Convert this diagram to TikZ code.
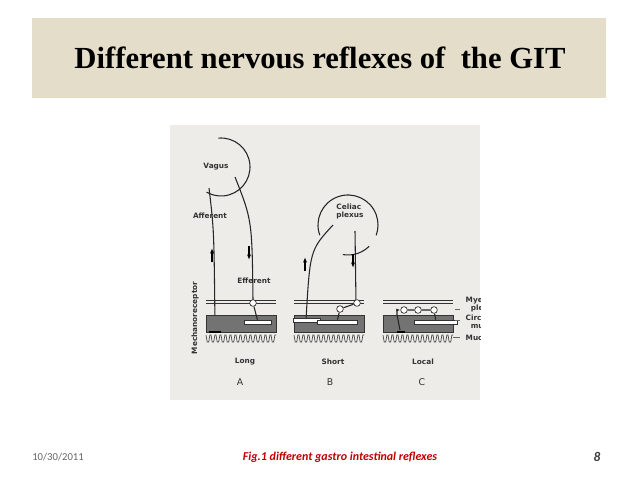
\documentclass[tikz,border=0pt]{standalone}
\usepackage{fontspec}
\setmainfont{Liberation Serif}
\newfontfamily\calfnt{Carlito}
\newfontfamily\figfnt{DejaVu Sans}
\usetikzlibrary{arrows.meta}
\definecolor{banner}{HTML}{E3DDC9}
\definecolor{figbg}{HTML}{EDECE9}
\definecolor{capred}{HTML}{C00000}
\tikzset{
  nerve/.style={line width=0.8pt,black!85},
  lbl/.style={font=\figfnt\fontsize{5.5}{6}\selectfont\bfseries,text=black!80},
  layer/.style={draw=black!80,line width=0.5pt},
  muscle/.style={layer,fill=black!55},
  plate/.style={draw=black!80,fill=white,line width=0.4pt,minimum width=20pt,minimum height=3pt,inner sep=0pt},
  gang/.style={circle,draw=black!85,fill=white,line width=0.5pt,inner sep=0pt,minimum size=5pt},
  arr/.style={-{Latex[length=4pt,width=3pt]},line width=0.9pt}
}
\begin{document}
\begin{tikzpicture}[x=0.75pt,y=-0.75pt]
\useasboundingbox (0,0) rectangle (638,478);
\fill[white] (0,0) rectangle (638,478);
\fill[banner] (32,18) rectangle (606,98);
\node (title) at (320,58) {\fontsize{23}{26}\selectfont\bfseries Different nervous reflexes of\ \ the GIT};
\fill[figbg] (170,125) rectangle (480,400);
\begin{scope}
\clip (170,125) rectangle (480,400);
% panel A
\draw[nerve] (221,167) ++(-95:29) arc[start angle=-95,end angle=120,radius=29];
\node[lbl] (vagus) at (216,167) {Vagus};
\node[lbl] (aff) at (210,216) {Afferent};
\node[lbl] (eff) at (254,281) {Efferent};
\draw[nerve] (209,188) .. controls (214,230) .. (215,327);
\draw[nerve] (235,177) .. controls (252,220) .. (253,300);
\draw[arr] (212,262) -- (212,248);
\draw[arr] (249,246) -- (249,260);
\foreach \x/\w in {206/70,294/70,383/70} {
  \draw[layer] (\x,300) -- ++(\w,0);
  \draw[layer] (\x,303) -- ++(\w,0);
  \draw[muscle] (\x,315) rectangle ++(\w,17);
  \draw[black!75,line width=0.5pt] (\x,335) foreach \i in {0,...,13} { -- ++(1.2,7) -- ++(1.5,0) -- ++(1.2,-7) -- ++(1.1,0)};
}
\draw[line width=1.4pt] (209,332) -- (221,332);
\node[plate] (pa) at (258,322) {};
\node[gang] (ga) at (253,303) {};
\draw[nerve] (ga) -- (pa);
\node[lbl] at (245,362) {Long};
\node[font=\figfnt\fontsize{7}{8}\selectfont,text=black!80] at (240,382) {A};
\node[lbl,rotate=90] at (195,318) {Mechanoreceptor};
% panel B
\draw[nerve] (348,225) ++(-200:30) arc[start angle=-200,end angle=20,radius=30];
\draw[nerve] (348,225) ++(45:30) arc[start angle=45,end angle=100,radius=30];
\node[lbl,align=left] at (350,211) {Celiac\\plexus};
\draw[nerve] (333,225) .. controls (310,250) .. (306,320);
\node[plate] (pb1) at (307,320) {};
\draw[nerve] (355,231) -- (356,303);
\draw[arr] (305,271) -- (305,257);
\draw[arr] (353,254) -- (353,268);
\node[gang] (gb1) at (357,303) {};
\node[gang] (gb2) at (340,309) {};
\node[plate,minimum width=30pt] (pb2) at (337,322) {};
\draw[nerve] (gb1) -- (gb2) -- (pb2);
\node[lbl] at (333,362) {Short};
\node[font=\figfnt\fontsize{7}{8}\selectfont,text=black!80] at (330,382) {B};
% panel C
\draw[line width=1.4pt] (397,332) -- (405,332);
\coordinate (cs) at (400,330);
\node[gang] (gc1) at (404,310) {};
\node[gang] (gc2) at (418,310) {};
\node[gang] (gc3) at (434,310) {};
\node[plate,minimum width=32pt] (pc) at (436,322) {};
\draw[nerve,-{Latex[length=3pt]}] (cs) -- (397,315) .. controls (397,310) .. (gc1);
\draw[nerve] (gc1) -- (gc2) -- (gc3) -- (pc);
\node[lbl] at (423,362) {Local};
\node[font=\figfnt\fontsize{7}{8}\selectfont,text=black!80] at (422,382) {C};
\draw[black!60] (455,309) -- (460,309) (455,320) -- (460,320) (453,337) -- (460,337);
\node[lbl,anchor=west,align=left] at (461,304) {Myenteric\\\ \ plexus};
\node[lbl,anchor=west,align=left] at (461,322) {Circular\\\ \ muscle};
\node[lbl,anchor=west] at (461,338) {Mucosa};
\end{scope}
\node[font=\calfnt\fontsize{8}{9}\selectfont,text=black!60] (date) at (58,457) {10/30/2011};
\node[font=\calfnt\fontsize{9}{10}\selectfont\bfseries\itshape,text=capred] (cap) at (340,457) {Fig.1 different gastro intestinal reflexes};
\node[font=\calfnt\fontsize{10}{11}\selectfont\bfseries\itshape,text=black!75] (pg) at (597,457) {8};
\end{tikzpicture}
\end{document}
